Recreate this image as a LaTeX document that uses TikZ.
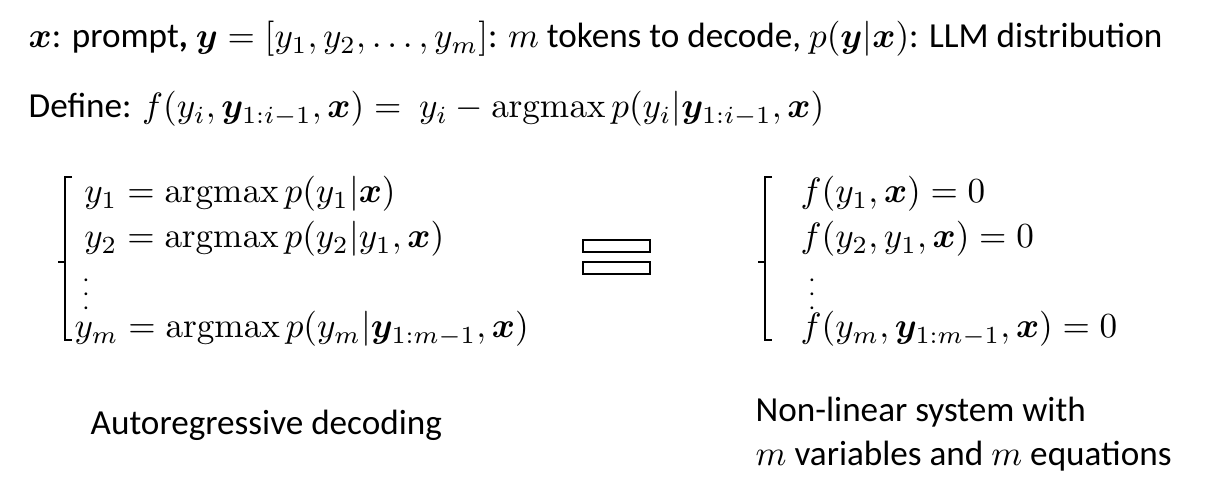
\documentclass[tikz,border=0pt]{standalone}
\usepackage{amsmath,bm}
\usepackage[no-math]{fontspec}
\setmainfont{Carlito}
\DeclareMathOperator*{\argmax}{argmax}
\begin{document}
\begin{tikzpicture}[x=0.01cm,y=-0.01cm,
  txt/.style={anchor=base west,inner sep=0pt,font=\fontsize{10}{12}\selectfont},
  dots/.style={anchor=center,inner sep=0pt,font=\fontsize{6.5}{7}\selectfont},
  brk/.style={line width=0.7pt},
  eqbox/.style={draw,line width=0.7pt}]
\useasboundingbox (0,0) rectangle (1205,485);
\node[txt] (l1) at (28,48) {$\bm{x}$: prompt\textbf{,} $\bm{y}=[y_1,y_2,\dots,y_m]$: $m$ tokens to decode, $p(\bm{y}|\bm{x})$: LLM distribution};
\node[txt] (l2) at (28,118) {Define: $f(y_i,\bm{y}_{1:i-1},\bm{x}) =\ y_i - \argmax p(y_i|\bm{y}_{1:i-1},\bm{x})$};
% left brace
\draw[brk] (72,177) -- (65,177) -- (65,340) -- (72,340);
\draw[brk] (65,262) -- (58,262);
\node[txt] (a1) at (74,203) {$\;y_1 = \argmax p(y_1|\bm{x})$};
\node[txt] (a2) at (74,248) {$\;y_2 = \argmax p(y_2|y_1,\bm{x})$};
\node[dots] (a3) at (86,284) {$\vdots$};
\node[txt] (a4) at (74,338) {$y_m = \argmax p(y_m|\bm{y}_{1:m-1},\bm{x})$};
% equivalence
\draw[eqbox] (583,240) rectangle (650,252);
\draw[eqbox] (583,262) rectangle (650,274);
% right brace
\draw[brk] (772,177) -- (765,177) -- (765,340) -- (772,340);
\draw[brk] (765,262) -- (758,262);
\node[txt] (b1) at (800,203) {$f(y_1,\bm{x}) = 0$};
\node[txt] (b2) at (800,248) {$f(y_2,y_1,\bm{x}) = 0$};
\node[dots] (b3) at (812,284) {$\vdots$};
\node[txt] (b4) at (800,338) {$f(y_m,\bm{y}_{1:m-1},\bm{x}) = 0$};
\node[txt] (c1) at (90,435) {Autoregressive decoding};
\node[txt] (c2) at (755,422) {Non-linear system with};
\node[txt] (c3) at (755,466) {$m$ variables and $m$ equations};
\end{tikzpicture}
\end{document}
